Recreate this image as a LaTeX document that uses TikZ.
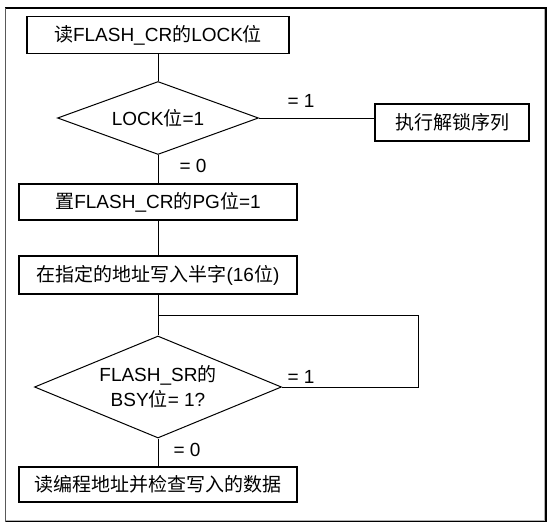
\documentclass[tikz,border=0pt]{standalone}
\usepackage{fontspec}
\setmainfont{Liberation Sans}
\newfontfamily\cjk{Noto Sans CJK SC}
\newcommand\zh[1]{{\cjk #1}}
\usetikzlibrary{shapes.geometric}
\begin{document}
\begin{tikzpicture}[x=1pt,y=-1pt,
  font=\fontsize{19}{25}\selectfont,
  box/.style={draw, line width=1.8pt, minimum width=278pt, minimum height=37pt, inner sep=0pt},
  dia/.style={diamond, draw, line width=1pt, aspect=2.4, inner sep=0pt, align=center},
  conn/.style={line width=1pt},
  lbl/.style={inner sep=0pt}]
\useasboundingbox (0,0) rectangle (557,527);
% frame
\draw[gray!60, line width=0.8pt] (5,8) rectangle (544,520);
\draw[black, line width=1.2pt] (5,8) -- (546,8) -- (546,521.5) -- (5,521.5);
\draw[gray!70!black, line width=0.8pt] (5,8) -- (5,521.5);
% nodes
\node[box, minimum width=262pt] (b1) at (158,35) {\zh{读}FLASH\_CR\zh{的}LOCK\zh{位}};
\node[dia, minimum width=201pt, minimum height=73pt] (d1) at (158,118) {LOCK\zh{位}=1};
\node[box, minimum width=154pt] (unl) at (452,122.5) {\zh{执行解锁序列}};
\node[box, minimum height=36pt] (b3) at (158,202) {\zh{置}FLASH\_CR\zh{的}PG\zh{位}=1};
\node[box, minimum height=38pt] (b4) at (158,275) {\zh{在指定的地址写入半字}(16\zh{位})};
\node[dia, minimum width=247pt, minimum height=102pt] (d2) at (158,387) {FLASH\_SR\zh{的}\\BSY\zh{位}= 1?};
\node[box, minimum height=35pt] (b5) at (158,484.5) {\zh{读编程地址并检查写入的数据}};
\coordinate (j) at (158,315);
\coordinate (r1) at (418,315);
\coordinate (r2) at (418,387);
% labels
\node[lbl] (l1) at (301,101) {= 1};
\node[lbl] (l2) at (193,166) {= 0};
\node[lbl] (l3) at (301,377) {= 1};
\node[lbl] (l4) at (187,450) {= 0};
% connectors
\draw[conn] (b1) -- (d1);
\draw[conn] (d1.east) -- (d1.east -| unl.west);
\draw[conn] (d1) -- (b3);
\draw[conn] (b3) -- (b4);
\draw[conn] (b4) -- (d2);
\draw[conn] (j) -- (r1) -- (r2) -- (d2.east);
\draw[conn] (d2) -- (b5);
\end{tikzpicture}
\end{document}
